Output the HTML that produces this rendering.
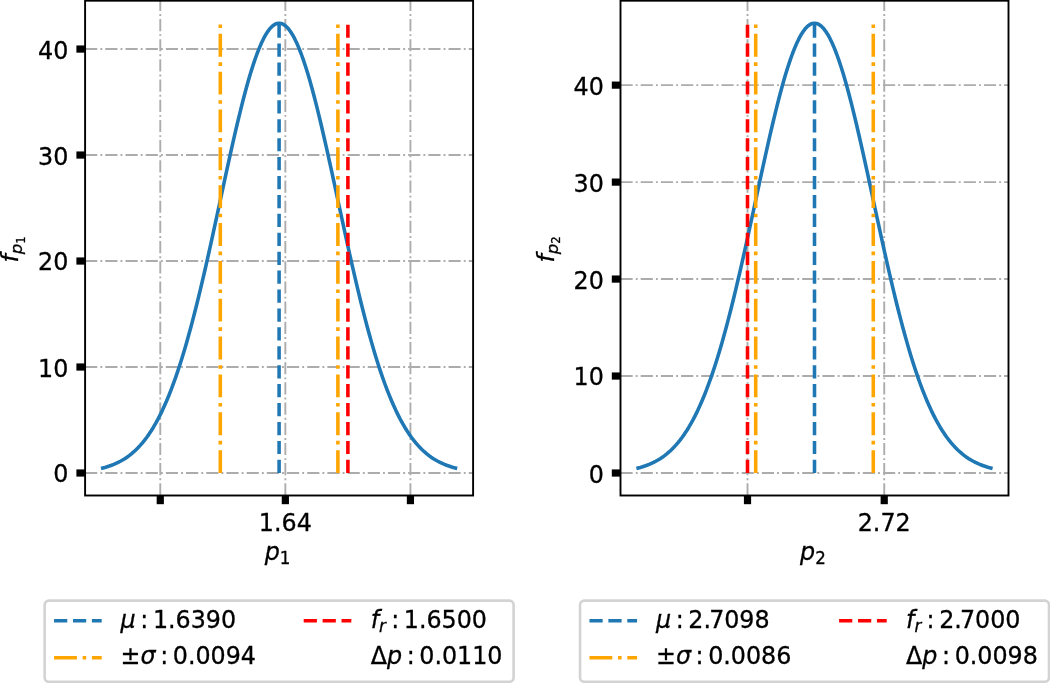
<!DOCTYPE html>
<html><head><meta charset="utf-8"><title>pdf plots</title>
<style>html,body{margin:0;padding:0;background:#fff}svg{display:block}text{font-family:'DejaVu Sans','Liberation Sans',sans-serif;font-size:23.81px;fill:#000;stroke:#000;stroke-width:0.3px}</style>
</head><body>
<svg width="1050" height="683" viewBox="0 0 1050 683">
<rect width="1050" height="683" fill="#fff"/>
<g>
<clipPath id="c0"><rect x="85.1" y="0.7" width="388" height="494.8"/></clipPath>
<g clip-path="url(#c0)" fill="none">
<path d="M160.27 495.5V0.7" stroke="#acacac" stroke-width="1.9" stroke-dasharray="12.19,3.05,1.9,3.05"/>
<path d="M285.35 495.5V0.7" stroke="#acacac" stroke-width="1.9" stroke-dasharray="12.19,3.05,1.9,3.05"/>
<path d="M410.43 495.5V0.7" stroke="#acacac" stroke-width="1.9" stroke-dasharray="12.19,3.05,1.9,3.05"/>
<path d="M85.1 473.01H473.1" stroke="#acacac" stroke-width="1.9" stroke-dasharray="12.19,3.05,1.9,3.05"/>
<path d="M85.1 367.02H473.1" stroke="#acacac" stroke-width="1.9" stroke-dasharray="12.19,3.05,1.9,3.05"/>
<path d="M85.1 261.03H473.1" stroke="#acacac" stroke-width="1.9" stroke-dasharray="12.19,3.05,1.9,3.05"/>
<path d="M85.1 155.05H473.1" stroke="#acacac" stroke-width="1.9" stroke-dasharray="12.19,3.05,1.9,3.05"/>
<path d="M85.1 49.06H473.1" stroke="#acacac" stroke-width="1.9" stroke-dasharray="12.19,3.05,1.9,3.05"/>
<path d="M102.74 468.01L104.94 467.42L107.15 466.77L109.35 466.05L111.55 465.26L113.76 464.39L115.96 463.44L118.17 462.4L120.37 461.26L122.58 460.02L124.78 458.66L126.99 457.19L129.19 455.59L131.4 453.86L133.6 451.98L135.8 449.95L138.01 447.76L140.21 445.4L142.42 442.86L144.62 440.14L146.83 437.22L149.03 434.1L151.24 430.76L153.44 427.2L155.65 423.42L157.85 419.39L160.05 415.12L162.26 410.6L164.46 405.81L166.67 400.77L168.87 395.45L171.08 389.86L173.28 383.99L175.49 377.84L177.69 371.41L179.9 364.7L182.1 357.7L184.3 350.43L186.51 342.88L188.71 335.06L190.92 326.97L193.12 318.63L195.33 310.04L197.53 301.22L199.74 292.17L201.94 282.92L204.15 273.47L206.35 263.84L208.55 254.06L210.76 244.14L212.96 234.11L215.17 223.99L217.37 213.81L219.58 203.59L221.78 193.36L223.99 183.15L226.19 172.99L228.4 162.91L230.6 152.94L232.8 143.12L235.01 133.47L237.21 124.03L239.42 114.83L241.62 105.91L243.83 97.29L246.03 89.01L248.24 81.1L250.44 73.59L252.65 66.51L254.85 59.88L257.05 53.73L259.26 48.09L261.46 42.98L263.67 38.42L265.87 34.43L268.08 31.03L270.28 28.22L272.49 26.03L274.69 24.45L276.9 23.51L279.1 23.19L281.3 23.51L283.51 24.45L285.71 26.03L287.92 28.22L290.12 31.03L292.33 34.43L294.53 38.42L296.74 42.98L298.94 48.09L301.15 53.73L303.35 59.88L305.55 66.51L307.76 73.59L309.96 81.1L312.17 89.01L314.37 97.29L316.58 105.91L318.78 114.83L320.99 124.03L323.19 133.47L325.4 143.12L327.6 152.94L329.8 162.91L332.01 172.99L334.21 183.15L336.42 193.36L338.62 203.59L340.83 213.81L343.03 223.99L345.24 234.11L347.44 244.14L349.65 254.06L351.85 263.84L354.05 273.47L356.26 282.92L358.46 292.17L360.67 301.22L362.87 310.04L365.08 318.63L367.28 326.97L369.49 335.06L371.69 342.88L373.9 350.43L376.1 357.7L378.3 364.7L380.51 371.41L382.71 377.84L384.92 383.99L387.12 389.86L389.33 395.45L391.53 400.77L393.74 405.81L395.94 410.6L398.15 415.12L400.35 419.39L402.55 423.42L404.76 427.2L406.96 430.76L409.17 434.1L411.37 437.22L413.58 440.14L415.78 442.86L417.99 445.4L420.19 447.76L422.4 449.95L424.6 451.98L426.8 453.86L429.01 455.59L431.21 457.19L433.42 458.66L435.62 460.02L437.83 461.26L440.03 462.4L442.24 463.44L444.44 464.39L446.65 465.26L448.85 466.05L451.05 466.77L453.26 467.42L455.46 468.01" stroke="#1f77b4" stroke-width="3.57" stroke-linecap="square" stroke-linejoin="round"/>
<path d="M279.1 473.01V23.19" stroke="#1f77b4" stroke-width="3.57" stroke-dasharray="13.21,5.71"/>
<path d="M220.31 473.01V23.19" stroke="#ffa500" stroke-width="3.57" stroke-dasharray="22.86,5.71,3.57,5.71"/>
<path d="M337.89 473.01V23.19" stroke="#ffa500" stroke-width="3.57" stroke-dasharray="22.86,5.71,3.57,5.71"/>
<path d="M347.89 473.01V23.19" stroke="#ff0000" stroke-width="3.57" stroke-dasharray="13.21,5.71"/>
</g>
<rect x="156.67" y="495.5" width="7.2" height="8.7"/>
<rect x="281.75" y="495.5" width="7.2" height="8.7"/>
<rect x="406.83" y="495.5" width="7.2" height="8.7"/>
<rect x="76.4" y="469.41" width="8.7" height="7.2"/>
<rect x="76.4" y="363.42" width="8.7" height="7.2"/>
<rect x="76.4" y="257.43" width="8.7" height="7.2"/>
<rect x="76.4" y="151.45" width="8.7" height="7.2"/>
<rect x="76.4" y="45.46" width="8.7" height="7.2"/>
<rect x="85.1" y="0.7" width="388" height="494.8" fill="none" stroke="#000" stroke-width="1.9"/>
<text x="68.43" y="482.06" text-anchor="end" transform="matrix(1 0 0 1.04 0 -19.122)">0</text>
<text x="68.43" y="376.37" text-anchor="end" transform="matrix(1 0 0 1.04 0 -14.895)">10</text>
<text x="68.43" y="269.88" text-anchor="end" transform="matrix(1 0 0 1.04 0 -10.635)">20</text>
<text x="68.43" y="164.39" text-anchor="end" transform="matrix(1 0 0 1.04 0 -6.416)">30</text>
<text x="68.43" y="58.41" text-anchor="end" transform="matrix(1 0 0 1.04 0 -2.176)">40</text>
<text x="285.35" y="531" text-anchor="middle" transform="matrix(1 0 0 1.04 0 -21.080)">1.64</text>
<text transform="matrix(1 0 0 1.04 0 -22.220)"><tspan x="264.7" y="559.5" font-style="oblique">p</tspan><tspan x="279.78" y="563.44" font-size="16.67">1</tspan></text>
<text transform="translate(18.2 262.6) rotate(-90)"><tspan x="0" y="0" font-style="oblique">f</tspan><tspan x="8.36" y="3.94" font-size="16.67" font-style="oblique">p</tspan><tspan x="18.91" y="6.69" font-size="11.67">1</tspan></text>
<rect x="44.65" y="600.6" width="468.95" height="81.1" rx="4.2" fill="#fff" stroke="#d3d3d3" stroke-width="2.6"/>
<path d="M54.06 620.8h47.62" fill="none" stroke="#1f77b4" stroke-width="3.57" stroke-dasharray="13.21,5.71"/>
<path d="M54.06 657.8h47.62" fill="none" stroke="#ffa500" stroke-width="3.57" stroke-dasharray="22.86,5.71,3.57,5.71"/>
<path d="M303.7 620.8h47.62" fill="none" stroke="#ff0000" stroke-width="3.57" stroke-dasharray="13.21,5.71"/>
<text transform="matrix(1 0 0 1.04 0 -24.960)"><tspan x="120.6" y="628" font-style="oblique">μ</tspan><tspan x="140.34 152.97 168.08 175.63 190.74 205.85 220.96" y="628">:1.6390</tspan></text>
<text transform="matrix(1 0 0 1.04 0 -26.400)"><tspan x="120.6" y="664">±</tspan><tspan x="140.5" y="664" font-style="oblique">σ</tspan><tspan x="160.18 172.81 187.92 195.47 210.58 225.69 240.8" y="664">:0.0094</tspan></text>
<text transform="matrix(1 0 0 1.04 0 -24.960)"><tspan x="370.7" y="628" font-style="oblique">f</tspan><tspan x="379.06" y="631.94" font-size="16.67" font-style="oblique">r</tspan><tspan x="391.18 403.81 418.92 426.47 441.58 456.69 471.8" y="628">:1.6500</tspan></text>
<text transform="matrix(1 0 0 1.04 0 -26.400)"><tspan x="370.7" y="664">Δ</tspan><tspan x="386.95" y="664" font-style="oblique">p</tspan><tspan x="406.65 419.28 434.39 441.94 457.05 472.16 487.27" y="664">:0.0110</tspan></text>
</g>
<g>
<clipPath id="c535"><rect x="620.5" y="0.7" width="388" height="494.8"/></clipPath>
<g clip-path="url(#c535)" fill="none">
<path d="M747.51 495.5V0.7" stroke="#acacac" stroke-width="1.9" stroke-dasharray="12.19,3.05,1.9,3.05"/>
<path d="M884.23 495.5V0.7" stroke="#acacac" stroke-width="1.9" stroke-dasharray="12.19,3.05,1.9,3.05"/>
<path d="M620.5 473.01H1008.5" stroke="#acacac" stroke-width="1.9" stroke-dasharray="12.19,3.05,1.9,3.05"/>
<path d="M620.5 376.04H1008.5" stroke="#acacac" stroke-width="1.9" stroke-dasharray="12.19,3.05,1.9,3.05"/>
<path d="M620.5 279.07H1008.5" stroke="#acacac" stroke-width="1.9" stroke-dasharray="12.19,3.05,1.9,3.05"/>
<path d="M620.5 182.11H1008.5" stroke="#acacac" stroke-width="1.9" stroke-dasharray="12.19,3.05,1.9,3.05"/>
<path d="M620.5 85.14H1008.5" stroke="#acacac" stroke-width="1.9" stroke-dasharray="12.19,3.05,1.9,3.05"/>
<path d="M638.14 468.01L640.34 467.42L642.55 466.77L644.75 466.05L646.95 465.26L649.16 464.39L651.36 463.44L653.57 462.4L655.77 461.26L657.98 460.02L660.18 458.66L662.39 457.19L664.59 455.59L666.8 453.86L669 451.98L671.2 449.95L673.41 447.76L675.61 445.4L677.82 442.86L680.02 440.14L682.23 437.22L684.43 434.1L686.64 430.76L688.84 427.2L691.05 423.42L693.25 419.39L695.45 415.12L697.66 410.6L699.86 405.81L702.07 400.77L704.27 395.45L706.48 389.86L708.68 383.99L710.89 377.84L713.09 371.41L715.3 364.7L717.5 357.7L719.7 350.43L721.91 342.88L724.11 335.06L726.32 326.97L728.52 318.63L730.73 310.04L732.93 301.22L735.14 292.17L737.34 282.92L739.55 273.47L741.75 263.84L743.95 254.06L746.16 244.14L748.36 234.11L750.57 223.99L752.77 213.81L754.98 203.59L757.18 193.36L759.39 183.15L761.59 172.99L763.8 162.91L766 152.94L768.2 143.12L770.41 133.47L772.61 124.03L774.82 114.83L777.02 105.91L779.23 97.29L781.43 89.01L783.64 81.1L785.84 73.59L788.05 66.51L790.25 59.88L792.45 53.73L794.66 48.09L796.86 42.98L799.07 38.42L801.27 34.43L803.48 31.03L805.68 28.22L807.89 26.03L810.09 24.45L812.3 23.51L814.5 23.19L816.7 23.51L818.91 24.45L821.11 26.03L823.32 28.22L825.52 31.03L827.73 34.43L829.93 38.42L832.14 42.98L834.34 48.09L836.55 53.73L838.75 59.88L840.95 66.51L843.16 73.59L845.36 81.1L847.57 89.01L849.77 97.29L851.98 105.91L854.18 114.83L856.39 124.03L858.59 133.47L860.8 143.12L863 152.94L865.2 162.91L867.41 172.99L869.61 183.15L871.82 193.36L874.02 203.59L876.23 213.81L878.43 223.99L880.64 234.11L882.84 244.14L885.05 254.06L887.25 263.84L889.45 273.47L891.66 282.92L893.86 292.17L896.07 301.22L898.27 310.04L900.48 318.63L902.68 326.97L904.89 335.06L907.09 342.88L909.3 350.43L911.5 357.7L913.7 364.7L915.91 371.41L918.11 377.84L920.32 383.99L922.52 389.86L924.73 395.45L926.93 400.77L929.14 405.81L931.34 410.6L933.55 415.12L935.75 419.39L937.95 423.42L940.16 427.2L942.36 430.76L944.57 434.1L946.77 437.22L948.98 440.14L951.18 442.86L953.39 445.4L955.59 447.76L957.8 449.95L960 451.98L962.2 453.86L964.41 455.59L966.61 457.19L968.82 458.66L971.02 460.02L973.23 461.26L975.43 462.4L977.64 463.44L979.84 464.39L982.05 465.26L984.25 466.05L986.45 466.77L988.66 467.42L990.86 468.01" stroke="#1f77b4" stroke-width="3.57" stroke-linecap="square" stroke-linejoin="round"/>
<path d="M814.5 473.01V23.19" stroke="#1f77b4" stroke-width="3.57" stroke-dasharray="13.21,5.71"/>
<path d="M755.71 473.01V23.19" stroke="#ffa500" stroke-width="3.57" stroke-dasharray="22.86,5.71,3.57,5.71"/>
<path d="M873.29 473.01V23.19" stroke="#ffa500" stroke-width="3.57" stroke-dasharray="22.86,5.71,3.57,5.71"/>
<path d="M747.51 473.01V23.19" stroke="#ff0000" stroke-width="3.57" stroke-dasharray="13.21,5.71"/>
</g>
<rect x="743.91" y="495.5" width="7.2" height="8.7"/>
<rect x="880.63" y="495.5" width="7.2" height="8.7"/>
<rect x="611.8" y="469.41" width="8.7" height="7.2"/>
<rect x="611.8" y="372.44" width="8.7" height="7.2"/>
<rect x="611.8" y="275.47" width="8.7" height="7.2"/>
<rect x="611.8" y="178.51" width="8.7" height="7.2"/>
<rect x="611.8" y="81.54" width="8.7" height="7.2"/>
<rect x="620.5" y="0.7" width="388" height="494.8" fill="none" stroke="#000" stroke-width="1.9"/>
<text x="603.83" y="482.36" text-anchor="end" transform="matrix(1 0 0 1.04 0 -19.134)">0</text>
<text x="603.83" y="385.09" text-anchor="end" transform="matrix(1 0 0 1.04 0 -15.244)">10</text>
<text x="603.83" y="288.42" text-anchor="end" transform="matrix(1 0 0 1.04 0 -11.377)">20</text>
<text x="603.83" y="191.45" text-anchor="end" transform="matrix(1 0 0 1.04 0 -7.498)">30</text>
<text x="603.83" y="94.49" text-anchor="end" transform="matrix(1 0 0 1.04 0 -3.620)">40</text>
<text x="884.23" y="531" text-anchor="middle" transform="matrix(1 0 0 1.04 0 -21.080)">2.72</text>
<text transform="matrix(1 0 0 1.04 0 -22.220)"><tspan x="800.1" y="559.5" font-style="oblique">p</tspan><tspan x="815.18" y="563.44" font-size="16.67">2</tspan></text>
<text transform="translate(553.6 262.6) rotate(-90)"><tspan x="0" y="0" font-style="oblique">f</tspan><tspan x="8.36" y="3.94" font-size="16.67" font-style="oblique">p</tspan><tspan x="18.91" y="6.69" font-size="11.67">2</tspan></text>
<rect x="580.05" y="600.6" width="468.95" height="81.1" rx="4.2" fill="#fff" stroke="#d3d3d3" stroke-width="2.6"/>
<path d="M589.46 620.8h47.62" fill="none" stroke="#1f77b4" stroke-width="3.57" stroke-dasharray="13.21,5.71"/>
<path d="M589.46 657.8h47.62" fill="none" stroke="#ffa500" stroke-width="3.57" stroke-dasharray="22.86,5.71,3.57,5.71"/>
<path d="M839.1 620.8h47.62" fill="none" stroke="#ff0000" stroke-width="3.57" stroke-dasharray="13.21,5.71"/>
<text transform="matrix(1 0 0 1.04 0 -24.960)"><tspan x="656" y="628" font-style="oblique">μ</tspan><tspan x="675.74 688.37 703.48 709.15 724.26 739.37 754.48" y="628">:2.7098</tspan></text>
<text transform="matrix(1 0 0 1.04 0 -26.400)"><tspan x="656" y="664">±</tspan><tspan x="675.9" y="664" font-style="oblique">σ</tspan><tspan x="695.58 708.21 723.32 730.87 745.98 761.09 776.2" y="664">:0.0086</tspan></text>
<text transform="matrix(1 0 0 1.04 0 -24.960)"><tspan x="906.1" y="628" font-style="oblique">f</tspan><tspan x="914.46" y="631.94" font-size="16.67" font-style="oblique">r</tspan><tspan x="926.58 939.21 954.32 959.99 975.1 990.21 1005.32" y="628">:2.7000</tspan></text>
<text transform="matrix(1 0 0 1.04 0 -26.400)"><tspan x="906.1" y="664">Δ</tspan><tspan x="922.35" y="664" font-style="oblique">p</tspan><tspan x="942.05 954.68 969.79 977.34 992.45 1007.56 1022.67" y="664">:0.0098</tspan></text>
</g>
</svg></body></html>
